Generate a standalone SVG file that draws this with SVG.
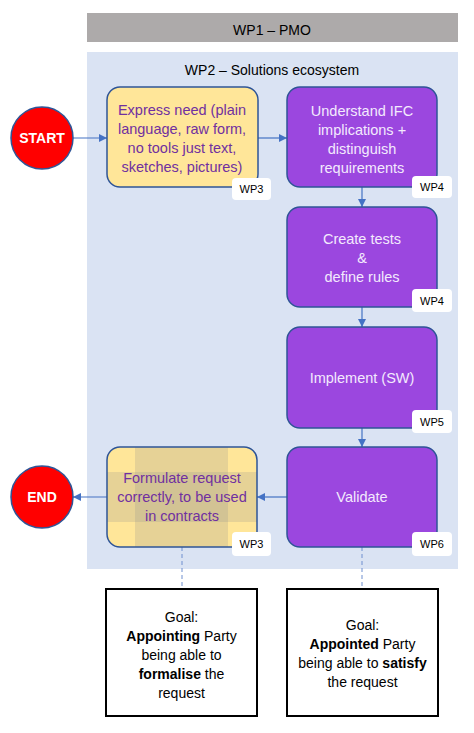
<svg xmlns="http://www.w3.org/2000/svg" width="474" height="733" viewBox="0 0 474 733">
<style>
text{font-family:"Liberation Sans",Arial,sans-serif;text-anchor:middle}
.hdr{font-size:14px;fill:#000}
.yel{fill:#FFE699;stroke:#2F5597;stroke-width:1.5}
.pur{fill:#9B47DF;stroke:#2F5597;stroke-width:1.5}
.ty{font-size:14.5px;fill:#7030A0}
.tp{font-size:14.5px;fill:#F3EAFD}
.lab{fill:#fff}
.tl{font-size:11px;fill:#000}
.circ{fill:#FF0000;stroke:#2F5597;stroke-width:1.5}
.tc{font-size:14px;font-weight:bold;fill:#fff}
.goal{fill:#fff;stroke:#000;stroke-width:2}
.tg{font-size:14px;fill:#000}
.arr{stroke:#4472C4;stroke-width:1.2;fill:none;marker-end:url(#ah)}
.dash{stroke:#6F8FCF;stroke-width:1;stroke-dasharray:4 3;fill:none}
</style>
<defs>
<marker id="ah" viewBox="0 0 10 10" refX="10" refY="5" markerWidth="8" markerHeight="8" markerUnits="userSpaceOnUse" orient="auto">
<path d="M0,0 L10,5 L0,10 z" fill="#4472C4"/>
</marker>
</defs>
<g id="wp1">
<rect x="87" y="13" width="371" height="29" fill="#ADAAAA"/>
<text class="hdr" x="272" y="35">WP1 – PMO</text>
</g>
<g id="wp2">
<rect x="87" y="52" width="371" height="517" fill="#DAE3F3"/>
<text class="hdr" x="272" y="75">WP2 – Solutions ecosystem</text>
</g>
<g id="connectors">
<line class="arr" x1="73" y1="138" x2="107" y2="138"/>
<line class="arr" x1="258" y1="138" x2="287" y2="138"/>
<line class="arr" x1="362" y1="187" x2="362" y2="207"/>
<line class="arr" x1="362" y1="307" x2="362" y2="327"/>
<line class="arr" x1="362" y1="428" x2="362" y2="447"/>
<line class="arr" x1="287" y1="497" x2="257" y2="497"/>
<line class="arr" x1="107" y1="497" x2="73" y2="497"/>
<line class="dash" x1="182" y1="547" x2="182" y2="589"/>
<line class="dash" x1="362" y1="547" x2="362" y2="589"/>
</g>
<g id="start">
<circle class="circ" cx="42" cy="138" r="31"/>
<text class="tc" x="42" y="143">START</text>
</g>
<g id="end">
<circle class="circ" cx="42" cy="497" r="31"/>
<text class="tc" x="42" y="502">END</text>
</g>
<g id="express">
<rect class="yel" x="107" y="87" width="151" height="100" rx="13"/>
<text class="ty" x="182" y="115">Express need (plain</text>
<text class="ty" x="182" y="134">language, raw form,</text>
<text class="ty" x="182" y="153">no tools just text,</text>
<text class="ty" x="182" y="172">sketches, pictures)</text>
<rect class="lab" x="232" y="178" width="39" height="22" rx="4"/>
<text class="tl" x="251.5" y="193">WP3</text>
</g>
<g id="understand">
<rect class="pur" x="287" y="87" width="150" height="100" rx="13"/>
<text class="tp" x="362" y="116">Understand IFC</text>
<text class="tp" x="362" y="135">implications +</text>
<text class="tp" x="362" y="154">distinguish</text>
<text class="tp" x="362" y="173">requirements</text>
<rect class="lab" x="412" y="176" width="40" height="22" rx="4"/>
<text class="tl" x="432" y="191">WP4</text>
</g>
<g id="create">
<rect class="pur" x="287" y="207" width="150" height="100" rx="13"/>
<text class="tp" x="362" y="244">Create tests</text>
<text class="tp" x="362" y="263">&amp;</text>
<text class="tp" x="362" y="282">define rules</text>
<rect class="lab" x="412" y="289" width="40" height="23" rx="4"/>
<text class="tl" x="432" y="305">WP4</text>
</g>
<g id="implement">
<rect class="pur" x="287" y="327" width="150" height="101" rx="13"/>
<text class="tp" x="362" y="383">Implement (SW)</text>
<rect class="lab" x="412" y="410" width="40" height="23" rx="4"/>
<text class="tl" x="432" y="426">WP5</text>
</g>
<g id="validate">
<rect class="pur" x="287" y="447" width="150" height="100" rx="13"/>
<text class="tp" x="362" y="502">Validate</text>
<rect class="lab" x="412" y="532" width="40" height="24" rx="4"/>
<text class="tl" x="432" y="548">WP6</text>
</g>
<g id="formulate">
<clipPath id="fc"><rect x="107" y="447" width="150" height="100" rx="13"/></clipPath>
<rect x="107" y="447" width="150" height="100" rx="13" fill="#FFE699"/>
<g clip-path="url(#fc)">
<rect x="135" y="447" width="93" height="100" fill="#8C8C8C" fill-opacity="0.22"/>
<rect x="107" y="472" width="150" height="50" fill="#8C8C8C" fill-opacity="0.22"/>
</g>
<rect x="107" y="447" width="150" height="100" rx="13" fill="none" stroke="#2F5597" stroke-width="1.5"/>
<text class="ty" x="182" y="483">Formulate request</text>
<text class="ty" x="182" y="502">correctly, to be used</text>
<text class="ty" x="182" y="521">in contracts</text>
<rect class="lab" x="232" y="532" width="39" height="24" rx="4"/>
<text class="tl" x="251.5" y="548">WP3</text>
</g>
<g id="goal1">
<rect class="goal" x="106" y="589" width="151" height="127"/>
<text class="tg" x="181.5" y="622">Goal:</text>
<text class="tg" x="181.5" y="641"><tspan font-weight="bold">Appointing</tspan> Party</text>
<text class="tg" x="181.5" y="660">being able to</text>
<text class="tg" x="181.5" y="679"><tspan font-weight="bold">formalise</tspan> the</text>
<text class="tg" x="181.5" y="698">request</text>
</g>
<g id="goal2">
<rect class="goal" x="287" y="589" width="151" height="127"/>
<text class="tg" x="362.5" y="630">Goal:</text>
<text class="tg" x="362.5" y="649"><tspan font-weight="bold">Appointed</tspan> Party</text>
<text class="tg" x="362.5" y="668">being able to <tspan font-weight="bold">satisfy</tspan></text>
<text class="tg" x="362.5" y="687">the request</text>
</g>
</svg>
